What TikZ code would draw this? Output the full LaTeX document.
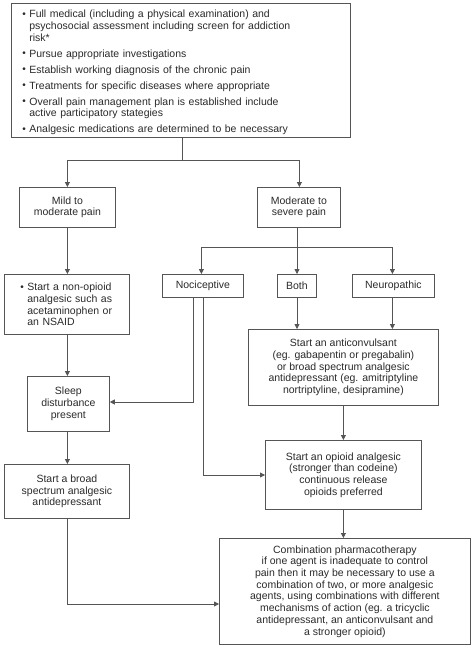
\documentclass[tikz,border=0pt]{standalone}
\usepackage{fontspec}
\setmainfont{Liberation Sans}
\usetikzlibrary{arrows.meta}
\definecolor{linegray}{HTML}{555555}
\definecolor{txt}{HTML}{2A2A2A}
\newcommand\fs{\fontsize{10.5}{11.7}\selectfont}
\newcommand\bdot{\makebox[7pt][l]{\raisebox{0.3pt}{\scalebox{0.95}{\textbullet}}}}
\begin{document}
\begin{tikzpicture}[x=1pt,y=-1pt,
  box/.style={draw=linegray, line width=0.8pt, rectangle, inner ysep=0pt, inner xsep=2pt,
    anchor=north west, align=center, font=\fs, text=txt},
  arr/.style={draw=linegray, line width=0.8pt, -{Triangle[width=5pt,length=5pt]}},
  ln/.style={draw=linegray, line width=0.8pt}]
\useasboundingbox (0,0) rectangle (474,648);

\node[box, minimum width=339, minimum height=134, text width=331, inner xsep=4pt, align=left] (top) at (11,3)
{\rule{0pt}{12pt}\hspace*{7pt}\bdot Full medical (including a physical examination) and\\
 \hspace*{14pt}psychosocial assessment including screen for addiction\\
 \hspace*{14pt}risk*\\[4.3pt]
 \hspace*{7pt}\bdot Pursue appropriate investigations\\[4.3pt]
 \hspace*{7pt}\bdot Establish working diagnosis of the chronic pain\\[4.3pt]
 \hspace*{7pt}\bdot Treatments for specific diseases where appropriate\\[4.3pt]
 \hspace*{7pt}\bdot Overall pain management plan is established include\\
 \hspace*{14pt}active participatory stategies\\[4.3pt]
 \hspace*{7pt}\bdot Analgesic medications are determined to be necessary};

\node[box, minimum width=96, minimum height=40] (mild) at (19,187) {Mild to\\moderate pain};
\node[box, minimum width=83, minimum height=40] (mod) at (257,187) {Moderate to\\severe pain};

\node[box, minimum width=125, minimum height=60, text width=117, inner xsep=4pt, align=left] (nonop) at (4,274)
{\hspace*{12pt}\bdot Start a non-opioid\\
 \hspace*{19pt}analgesic such as\\
 \hspace*{19pt}acetaminophen or\\
 \hspace*{19pt}an NSAID};

\node[box, minimum width=81, minimum height=23] (noci) at (162,274) {Nociceptive};
\node[box, minimum width=39, minimum height=23] (both) at (277,274) {Both};
\node[box, minimum width=82, minimum height=23] (neuro) at (352,274) {Neuropathic};

\node[box, minimum width=190, minimum height=76] (anti) at (248,329)
{Start an anticonvulsant\\(eg. gabapentin or pregabalin)\\or broad spectrum analgesic\\antidepressant (eg. amitriptyline\\nortriptyline, desipramine)};

\node[box, minimum width=82, minimum height=55] (sleep) at (27,376) {Sleep\\disturbance\\present};

\node[box, minimum width=156, minimum height=69] (opi) at (265,440)
{Start an opioid analgesic\\(stronger than codeine)\\continuous release\\opioids preferred};

\node[box, minimum width=125, minimum height=54] (broad) at (4,464)
{Start a broad\\spectrum analgesic\\antidepressant};

\node[box, minimum width=251, minimum height=106] (comb) at (219,538)
{Combination pharmacotherapy\\if one agent is inadequate to control\\pain then it may be necessary to use a\\combination of two, or more analgesic\\agents, using combinations with different\\mechanisms of action (eg. a tricyclic\\antidepressant, an anticonvulsant and\\a stronger opioid)};

% connectors
\coordinate (j1) at (182,160);
\draw[ln] (top.south -| j1) -- (j1);
\draw[arr] (j1) -| (mild.north);
\draw[arr] (j1) -| ([xshift=0.5pt]mod.north);
\coordinate (j2) at (297,247);
\draw[ln] (mod.south -| j2) -- (j2);
\draw[arr] (j2) -| ([xshift=-1.5pt]noci.north);
\draw[arr] (j2) -- (j2 |- both.north);
\draw[arr] (j2) -| ([xshift=-1pt]neuro.north);

\draw[arr] (mild.south) -- (mild.south |- nonop.north);
\draw[arr] (nonop.south -| mild.south) -- (mild.south |- sleep.north);
\draw[arr] (sleep.south -| mild.south) -- (mild.south |- broad.north);
\coordinate (c1) at (67,604);
\draw[arr] (broad.south -| c1) -- (c1) -- (c1 -| comb.west);

\coordinate (n1) at (193,402);
\draw[arr] (noci.south -| n1) -- (n1) -- (n1 -| sleep.east);
\coordinate (n2) at (203,475);
\draw[arr] (noci.south -| n2) -- (n2) -- (n2 -| opi.west);

\draw[arr] (both.south -| j2) -- (j2 |- anti.north);
\draw[arr] ([xshift=-1pt]neuro.south) -- ([xshift=-1pt]neuro.south |- anti.north);
\draw[arr] (anti.south) -- (anti.south |- opi.north);
\draw[arr] (opi.south) -- (opi.south |- comb.north);
\end{tikzpicture}
\end{document}
